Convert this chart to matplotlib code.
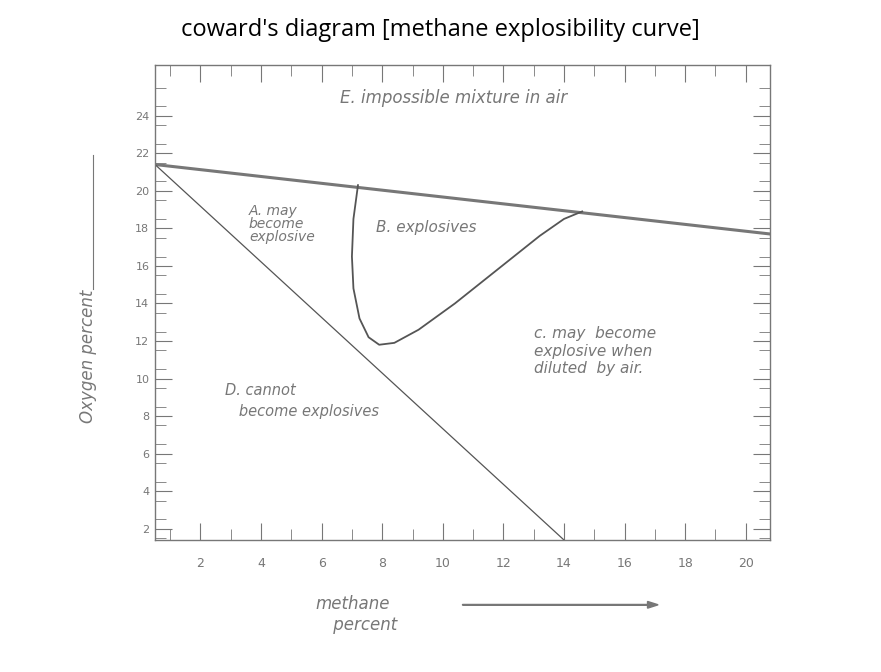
import matplotlib
matplotlib.use("Agg")
import matplotlib.pyplot as plt
import numpy as np

xticks = [2, 4, 6, 8, 10, 12, 14, 16, 18, 20]
yticks = [2, 4, 6, 8, 10, 12, 14, 16, 18, 20, 22, 24]
upper_x = [0.5, 20.8]
upper_y = [21.4, 17.7]
diag_x = [0.5, 14.0]
diag_y = [21.4, 1.4]
curve_x = [7.2, 7.05, 7.0, 7.05, 7.25, 7.55, 7.9, 8.4, 9.2, 10.4, 11.8, 13.2, 14.0, 14.6]
curve_y = [20.3, 18.5, 16.5, 14.8, 13.2, 12.2, 11.8, 11.9, 12.6, 14.0, 15.8, 17.6, 18.5, 18.9]

fig = plt.figure(figsize=(8.81, 6.72), dpi=100)
ax = fig.add_axes([155/881, 132/672, 615/881, 475/672])
ax.set_xlim(0.5, 20.8)
ax.set_ylim(1.4, 26.7)
col = "#555555"
ax.plot(upper_x, upper_y, color="#777777", lw=2.2)
ax.plot(diag_x, diag_y, color=col, lw=0.9)
ax.plot(curve_x, curve_y, color=col, lw=1.3)
for s in ax.spines.values():
    s.set_color("#777777"); s.set_linewidth(1)
ax.set_xticks(xticks); ax.set_yticks(yticks)
ax.set_xticks(np.arange(1, 21, 1), minor=True)
ax.set_yticks(np.arange(1.5, 26.5, 1), minor=True)
ax.tick_params(which="both", direction="in", top=True, right=True, color="#777777", length=12)
ax.tick_params(which="minor", length=8)
ax.tick_params(axis="x", labelsize=9, labelcolor="#777777", pad=12)
ax.tick_params(axis="y", labelsize=8, labelcolor="#777777", pad=4)
tc = "#777777"
ax.text(6.6, 24.7, "E. impossible mixture in air", color=tc, fontsize=12, style="italic")
ax.text(3.6, 17.3, "A. may\nbecome\nexplosive", color=tc, fontsize=10, style="italic", linespacing=0.95)
ax.text(7.8, 17.8, "B. explosives", color=tc, fontsize=11, style="italic")
ax.text(13.0, 10.3, "c. may  become\nexplosive when\ndiluted  by air.", color=tc, fontsize=11, style="italic", linespacing=1.2)
ax.text(2.8, 8.0, "D. cannot\n   become explosives", color=tc, fontsize=10.5, style="italic", linespacing=1.5)
fig.text(0.5, 0.955, "coward's diagram [methane explosibility curve]", ha="center", va="center", fontsize=17, family="Open Sans")
fig.text(0.100, 0.47, "Oxygen percent", rotation=90, ha="center", va="center", color=tc, fontsize=12, style="italic")
fig.add_artist(matplotlib.lines.Line2D([0.106, 0.106], [0.57, 0.77], color=tc, lw=0.8))
fig.text(0.40, 0.085, "methane\n     percent", ha="center", va="center", color=tc, fontsize=12, style="italic")
fig.add_artist(matplotlib.patches.FancyArrow(0.525, 0.1, 0.21, 0, width=0.001, head_width=0.01, head_length=0.012, color=tc))
fig.savefig("out.png", dpi=100)
